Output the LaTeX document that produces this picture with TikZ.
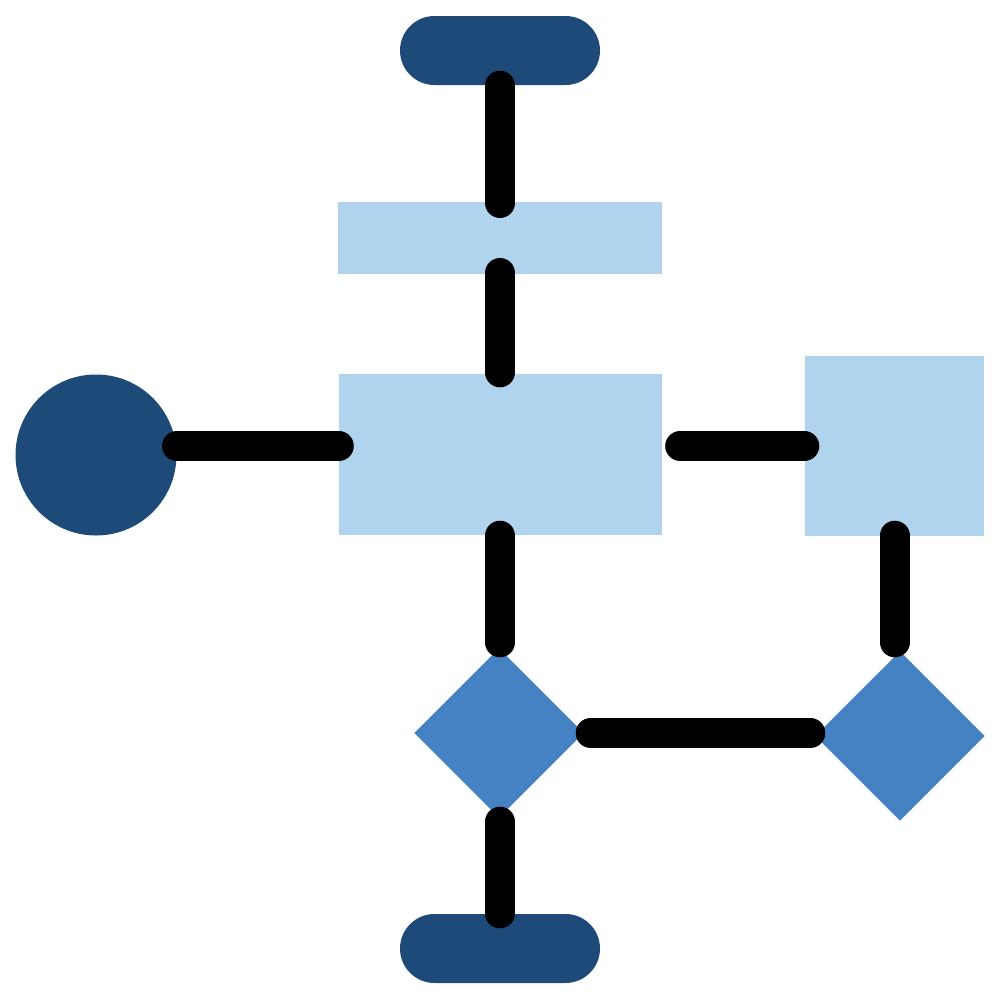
\documentclass[tikz,border=0pt]{standalone}
\usetikzlibrary{shapes.geometric,calc}
\definecolor{darkblue}{HTML}{1D4A78}
\definecolor{lightblue}{HTML}{B0D3EE}
\definecolor{midblue}{HTML}{4482C4}
\tikzset{
  terminal/.style={fill=darkblue,draw=none,rectangle,rounded corners=3.45mm,minimum width=20mm,minimum height=6.9mm,inner sep=0pt},
  process/.style={fill=lightblue,draw=none,rectangle,inner sep=0pt},
  decision/.style={fill=midblue,draw=none,diamond,inner sep=0pt,minimum width=17mm,minimum height=17mm},
  startcirc/.style={fill=darkblue,draw=none,circle,inner sep=0pt,minimum size=16.1mm},
  conn/.style={line width=3mm,line cap=round,draw=black}
}
\begin{document}
\begin{tikzpicture}[x=0.1mm,y=-0.1mm]
\path[use as bounding box,fill=white] (0,0) rectangle (1000,1000);
% nodes
\node[terminal] (t1) at (500,50.5) {};
\node[process,minimum width=32.4mm,minimum height=7.2mm] (r1) at (500,238) {};
\node[process,minimum width=32.3mm,minimum height=16.1mm] (r2) at (500,454.5) {};
\node[process,minimum width=17.9mm,minimum height=18mm] (r3) at (894.5,446) {};
\node[startcirc] (c) at (96,455) {};
\node[decision] (d1) at (499,733) {};
\node[decision] (d2) at (900,736) {};
\node[terminal] (t2) at (500,948.5) {};
% connectors
\draw[conn] (t1.south) -- ($(r1.center)+(0,-35)$);
\draw[conn] ($(r1.center)+(0,35)$) -- ($(r2.north)+(0,-1)$);
\draw[conn] ($(c.center)+(81,-9)$) -- ($(r2.west)+(1,-8.5)$);
\draw[conn] ($(r2.east)+(18,-8.5)$) -- (r3.west);
\draw[conn] ($(r3.south)+(0,-1)$) -- ($(r3.south |- d2.north)+(0,-8)$);
\draw[conn] (r2.south) -- ($(r2.south |- d1.north)+(0,-5)$);
\draw[conn] ($(d1.east)+(6,0)$) -- ($(d2.west |- d1.east)+(-4,0)$);
\draw[conn] ($(d1.south)+(1,3)$) -- (t2.north);
\end{tikzpicture}
\end{document}
